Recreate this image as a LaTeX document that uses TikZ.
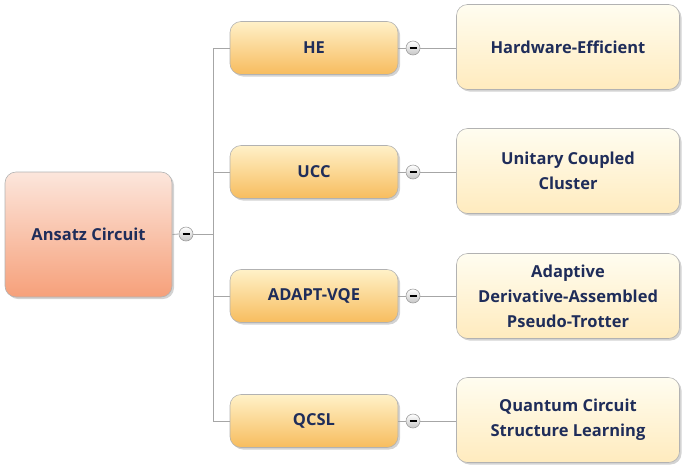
\documentclass[tikz,border=0pt]{standalone}
\usepackage{fontspec}
\setmainfont{Open Sans}
\usetikzlibrary{shadows}
\definecolor{txt}{HTML}{1F2D5A}
\definecolor{rtop}{HTML}{FCE6DC}
\definecolor{rbot}{HTML}{F6A07A}
\definecolor{mtop}{HTML}{FFF1C8}
\definecolor{mbot}{HTML}{F7BC5E}
\definecolor{ltop}{HTML}{FFFDF0}
\definecolor{lbot}{HTML}{FFEBBE}
\begin{document}
\begin{tikzpicture}[x=1pt,y=-1pt,
  base/.style={draw=gray!60,rounded corners=11pt,line width=0.6pt,align=center,text=txt,
    font=\fontsize{16.5}{25}\selectfont\bfseries,
    drop shadow={shadow xshift=2pt,shadow yshift=-2pt,opacity=0.35,fill=gray}},
  root/.style={base,minimum width=167pt,minimum height=125pt,top color=rtop,bottom color=rbot},
  mid/.style={base,minimum width=168pt,minimum height=53pt,top color=mtop,bottom color=mbot},
  leaf/.style={base,minimum width=223pt,minimum height=85pt,top color=ltop,bottom color=lbot},
  minus/.style={circle,draw=gray!75,line width=0.6pt,inner sep=0pt,minimum size=14pt,
    top color=white,bottom color=gray!45,
    path picture={\draw[line width=1.8pt,black] ([xshift=-3.5pt]path picture bounding box.center) -- ([xshift=3.5pt]path picture bounding box.center);}},
  ln/.style={draw=gray!70,line width=0.8pt}]
\useasboundingbox (0,0) rectangle (685,472);
\node[root] (r) at (88.5,234.5) {Ansatz Circuit};
\node[minus] (rm) at (186,234) {};
\coordinate (t0) at (213,48);
\coordinate (tr) at (213,234);
\coordinate (t4) at (213,421);
\node[mid] (m1) at (314,48) {HE};
\node[mid] (m2) at (314,172) {UCC};
\node[mid] (m3) at (314,296) {ADAPT-VQE};
\node[mid] (m4) at (314,421) {QCSL};
\node[minus] (n1) at (413,48) {};
\node[minus] (n2) at (413,172) {};
\node[minus] (n3) at (413,296) {};
\node[minus] (n4) at (413,421) {};
\node[leaf] (l1) at (568,47) {Hardware-Efficient};
\node[leaf] (l2) at (568,171) {Unitary Coupled\\Cluster};
\node[leaf] (l3) at (568,296) {Adaptive\\Derivative-Assembled\\Pseudo-Trotter};
\node[leaf] (l4) at (568,420) {Quantum Circuit\\Structure Learning};
\draw[ln] (r.east) -- (rm.west);
\draw[ln] (rm.east) -- (tr);
\draw[ln] (t0) -- (t4);
\foreach \i in {1,2,3,4}{
  \draw[ln] (213,0 |- m\i.west) -- (m\i.west);
  \draw[ln] (m\i.east) -- (n\i.west);
  \draw[ln] (n\i.east) -- (l\i.west |- n\i.east);
}
\end{tikzpicture}
\end{document}
